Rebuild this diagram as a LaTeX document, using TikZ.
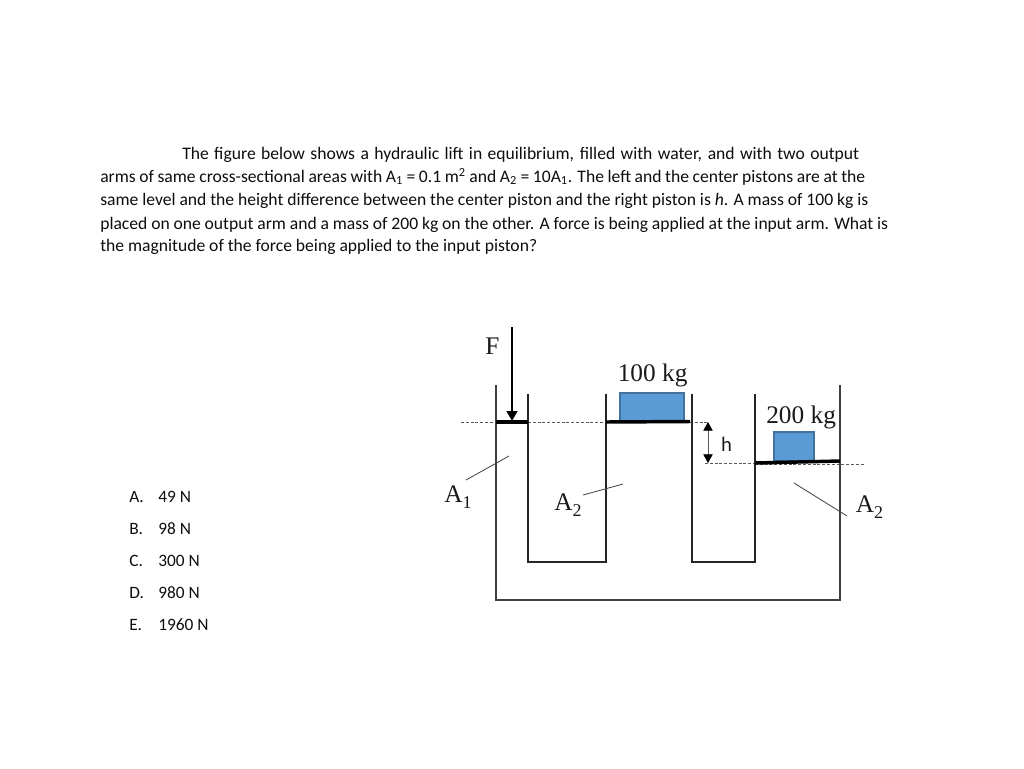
\documentclass[tikz,border=0pt]{standalone}
\usepackage{fontspec}
\setmainfont{Carlito}
\newfontfamily\timesf{Liberation Serif}
\usetikzlibrary{arrows.meta}
\definecolor{boxfill}{HTML}{5B9BD5}
\definecolor{boxedge}{HTML}{41719C}
\definecolor{wallc}{HTML}{404040}
\newcommand{\subd}[1]{\raisebox{-4.5pt}{\fontsize{13.5}{14}\selectfont #1}}
\newcommand{\pline}[2]{\makebox[#1][s]{#2}}
\tikzset{
  para/.style={anchor=base west,inner sep=0pt,font=\fontsize{13.2}{15}\selectfont,text=black!95},
  opt/.style={anchor=base west,inner sep=0pt,font=\fontsize{13}{15}\selectfont,text=black!95},
  wall/.style={draw=wallc,line width=1pt},
  ushape/.style={draw=black!85,line width=0.8pt},
  level/.style={draw=black!65,line width=0.6pt,dash pattern=on 2.2pt off 1.4pt},
  piston/.style={draw=black,line width=2.6pt},
  leader/.style={draw=black!75,line width=0.6pt},
  massbox/.style={draw=boxedge,fill=boxfill,line width=1.5pt,inner sep=0pt,outer sep=0pt},
  serif/.style={anchor=base west,inner sep=0pt,font=\timesf\fontsize{19}{20}\selectfont,text=black!90},
}
\begin{document}
\begin{tikzpicture}[x=0.75pt,y=-0.75pt]
\useasboundingbox (0,0) rectangle (1024,768);
% problem text
\node[para] (t1) at (182,159) {\pline{507.75pt}{The figure below shows a hydraulic lift in equilibrium, filled with water, and with two output}};
\node[para] (t2) at (100,182) {\pline{573.75pt}{arms of same cross-sectional areas with A\textsubscript{1} = 0.1 m\textsuperscript{2} and A\textsubscript{2} = 10A\textsubscript{1}. The left and the center pistons are at the}};
\node[para] (t3) at (100,205) {\pline{576pt}{same level and the height difference between the center piston and the right piston is \textit{h}. A mass of 100 kg is}};
\node[para] (t4) at (100,229) {\pline{591pt}{placed on one output arm and a mass of 200 kg on the other. A force is being applied at the input arm. What is}};
\node[para] (t5) at (100,251) {\pline{327.75pt}{the magnitude of the force being applied to the input piston?}};
% options
\node[opt] (a1) at (129,502) {A.};\node[opt] (a2) at (158,502) {49 N};
\node[opt] (b1) at (129,534) {B.};\node[opt] (b2) at (158,534) {98 N};
\node[opt] (c1) at (129,566) {C.};\node[opt] (c2) at (158,566) {300 N};
\node[opt] (d1) at (129,598) {D.};\node[opt] (d2) at (158,598) {980 N};
\node[opt] (e1) at (129,630) {E.};\node[opt] (e2) at (158,630) {1960 N};
% level lines
\draw[level] (461,422) -- (496,422);
\draw[level] (528,422) -- (606,422);
\draw[level] (690,422) -- (708,422);
\draw[level] (705,463.5) -- (755,463.5);
\draw[level] (755,464.5) -- (864,464.5);
% vessel
\draw[wall] (496,385) -- (496,600) -- (840,600) -- (840,385);
\draw[ushape] (528,394) -- (528,562) -- (606,562) -- (606,394);
\draw[ushape] (692,394) -- (692,562) -- (755,562) -- (755,394);
% masses
\node[massbox,minimum width=48pt,minimum height=21pt,anchor=north west] (m1) at (619.5,393) {};
\node[massbox,minimum width=30pt,minimum height=21.75pt,anchor=north west] (m2) at (774,432) {};
% pistons
\draw[piston] (496,422) -- (528,422);
\draw[piston] (606,422) -- (690,421.5);
\draw[piston] (755,463) -- (840,461);
% force arrow
\coordinate (ftop) at (512,327);
\coordinate (fend) at (512,421);
\draw[-{Triangle[length=7.5pt,width=8pt]},line width=2pt,draw=black] (ftop) -- (fend);
\node[serif] (F) at (485,354) {F};
% height arrow
\coordinate (htop) at (708,422);
\coordinate (hbot) at (708,463);
\draw[{Triangle[length=6.5pt,width=7pt,color=black,fill=black]}-{Triangle[length=6.5pt,width=7pt,color=black,fill=black]},line width=0.6pt,draw=black!65] (htop) -- (hbot);
\node[inner sep=0pt,font=\fontsize{15.5}{17}\selectfont,text=black!90] (h) at (726.5,444) {h};
% mass labels
\node[serif] (l100) at (617.5,381) {100 kg};
\node[serif] (l200) at (766,423) {200 kg};
% area labels
\node[serif] (A1) at (444,502) {A\subd{1}};
\node[serif] (A2a) at (554,510) {A\subd{2}};
\node[serif] (A2b) at (855.5,512) {A\subd{2}};
\coordinate (la1) at (466,480); \coordinate (la2) at (509,456);
\coordinate (lb1) at (583,495); \coordinate (lb2) at (623,484);
\coordinate (lc1) at (794,483); \coordinate (lc2) at (847,516);
\draw[leader] (la1) -- (la2);
\draw[leader] (lb1) -- (lb2);
\draw[leader] (lc1) -- (lc2);
\end{tikzpicture}
\end{document}
